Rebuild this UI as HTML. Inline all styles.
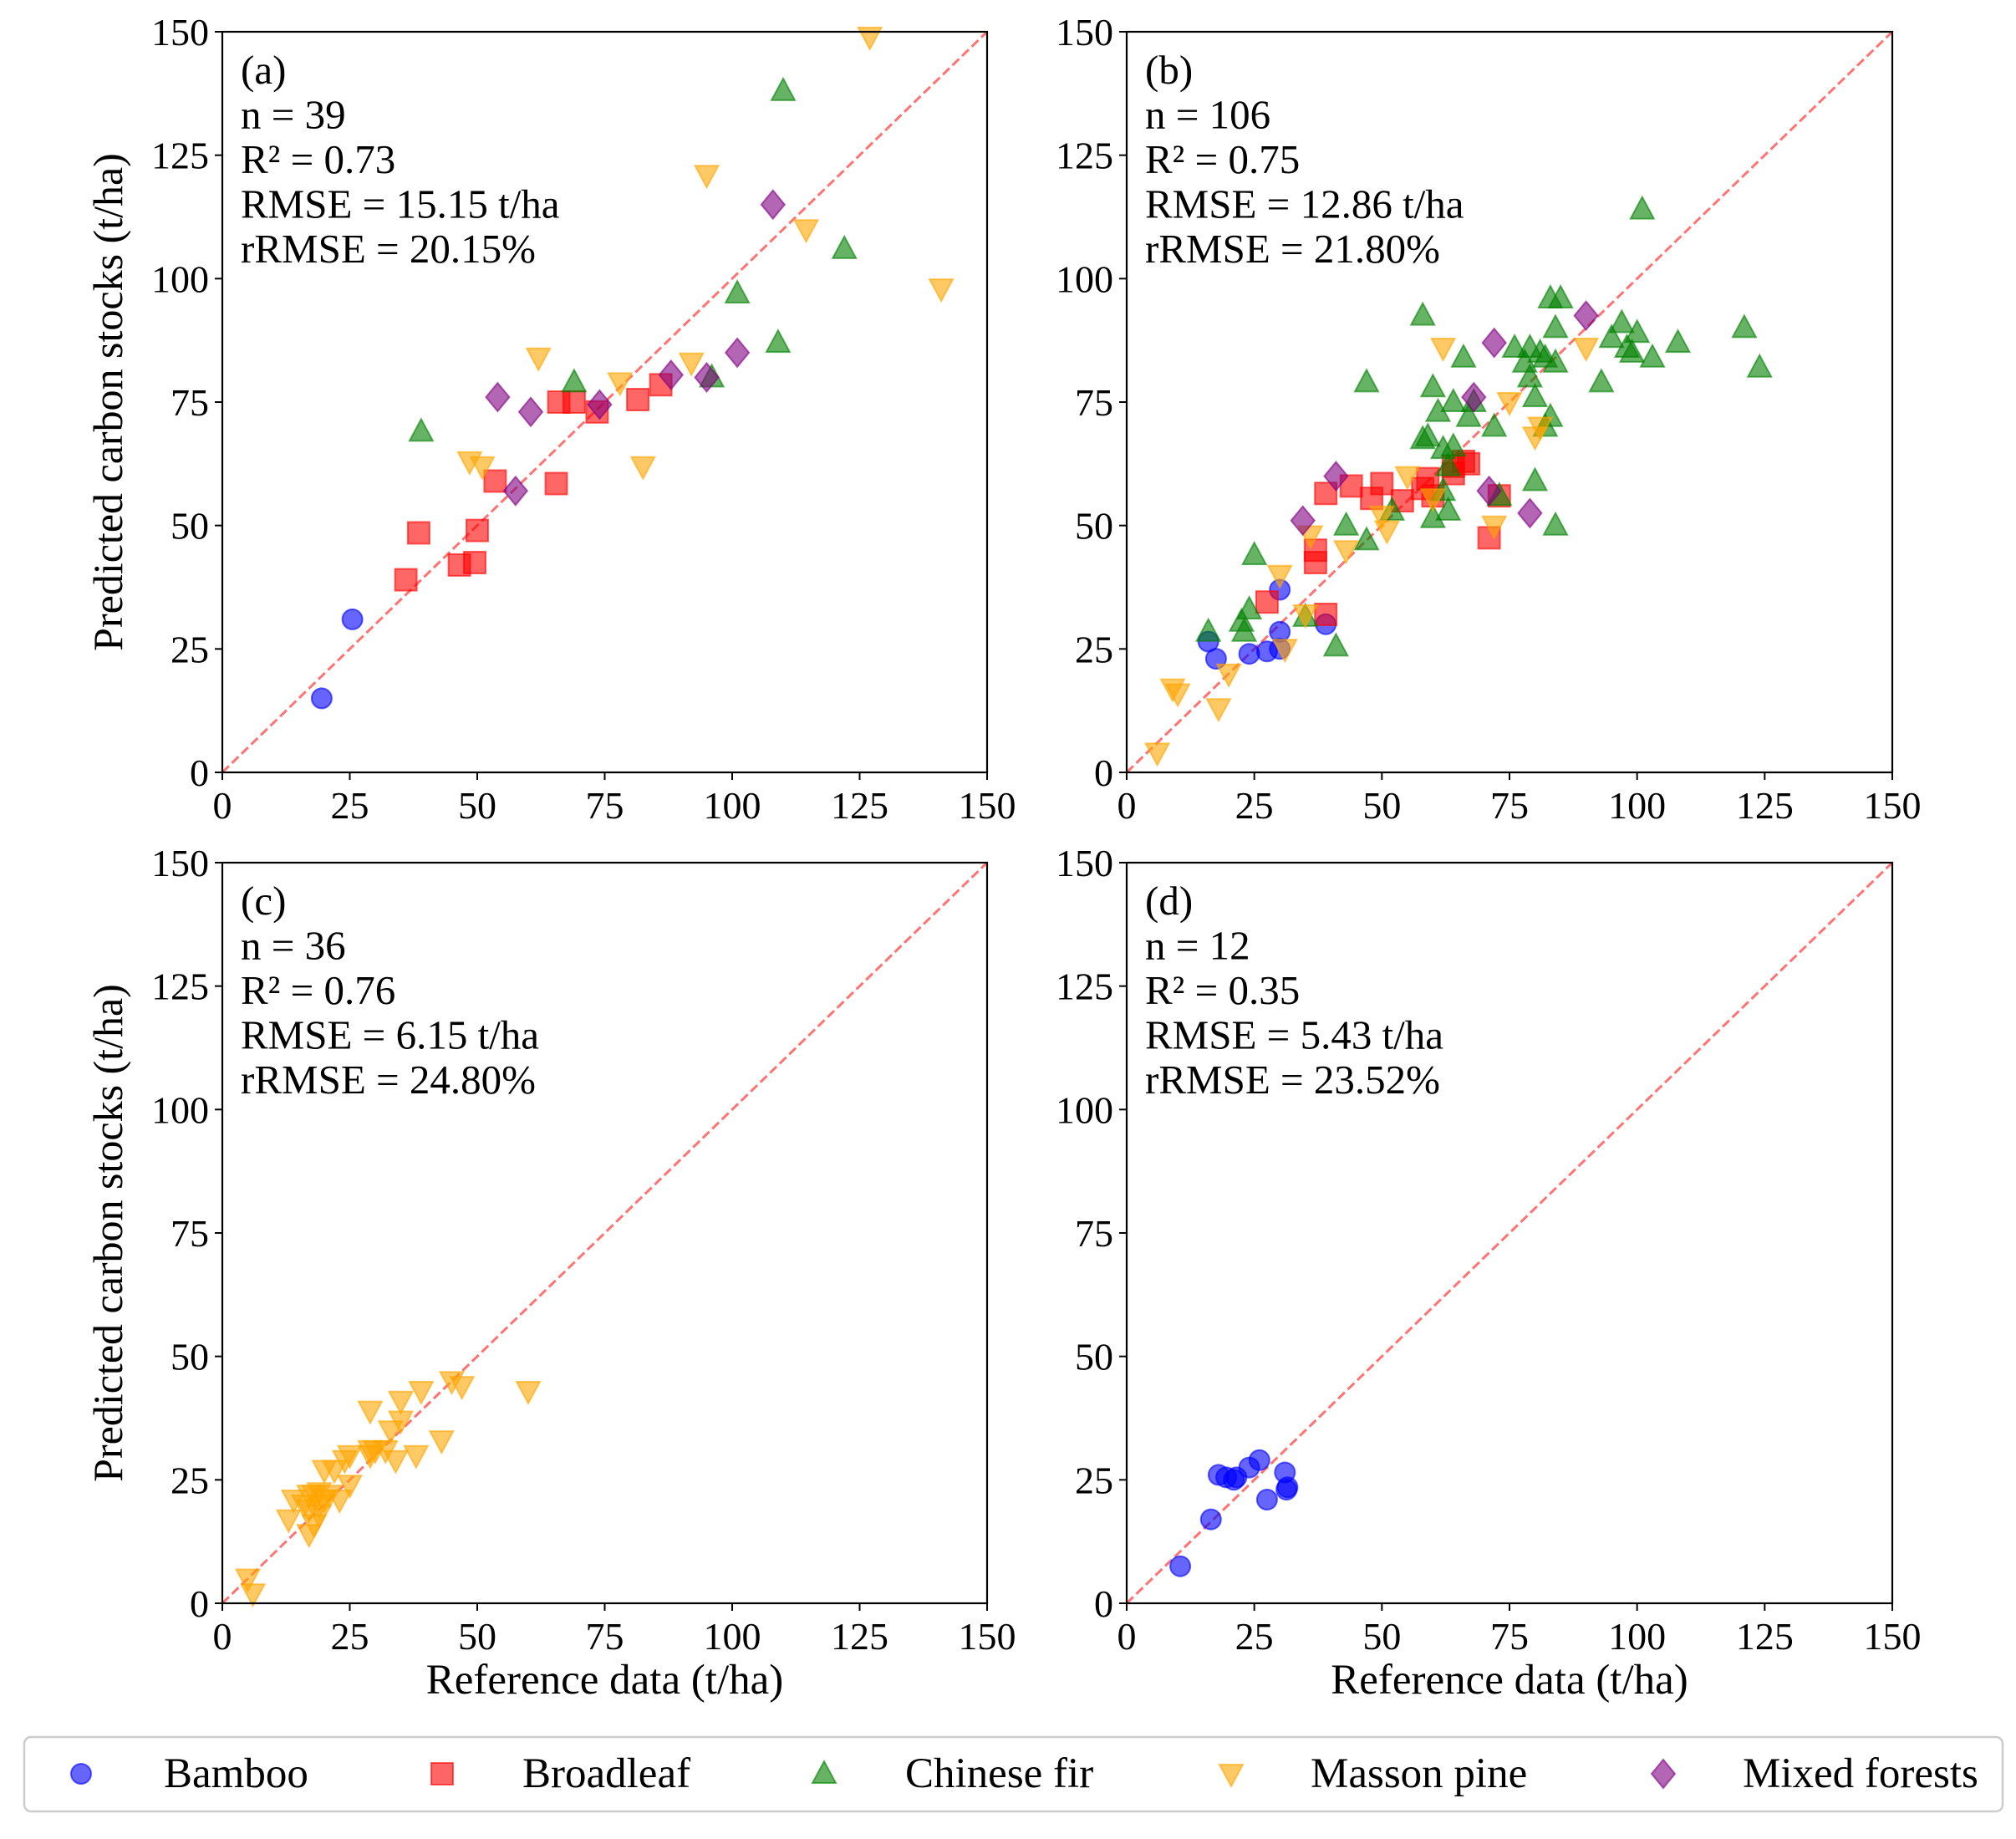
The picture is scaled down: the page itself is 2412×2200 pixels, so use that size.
<!DOCTYPE html>
<html><head><meta charset="utf-8"><style>
html,body{margin:0;padding:0;background:#fff;}
svg{display:block;font-family:"Liberation Serif",serif;}
</style></head><body>
<svg id="s" width="2412" height="2200" viewBox="0 0 2412 2200" xmlns="http://www.w3.org/2000/svg"></svg>
<script>
const S=document.getElementById('s');let h='';
const panels=[
 {x0:266,x1:1181,y0:38,y1:924,lab:'(a)',t:['n = 39','R² = 0.73','RMSE = 15.15 t/ha','rRMSE = 20.15%'],ylab:true,xlab:false,
  d:{b:[[19.5,15],[25.5,31]],
  r:[[36,39],[38.5,48.5],[46.5,42],[49.5,42.5],[50,49],[53.5,59],[65.5,58.5],[66,75],[69,75],[73.5,73],[81.5,75.5],[86,78.5]],
  g:[[39,69],[69,79],[96,80],[101,97],[109,87],[110,138],[122,106]],
  o:[[48.5,63],[51,62],[62,84],[78,79],[82.5,62],[92,83],[95,121],[114.5,110],[127,149],[141,98]],
  p:[[54,76],[60.5,73],[57.5,57],[74,74.5],[88,80.5],[95,80],[101,85],[108,115]]}},
 {x0:1348,x1:2264,y0:38,y1:924,lab:'(b)',t:['n = 106','R² = 0.75','RMSE = 12.86 t/ha','rRMSE = 21.80%'],ylab:false,xlab:false,
  d:{b:[[16,26.5],[17.5,23],[24,24],[27.5,24.5],[30,25],[30,28.5],[30,37],[39,30]],
  r:[[27.5,34.5],[37,45],[37,42.5],[39,32],[39,56.5],[44,58],[48,55.5],[50,58.5],[54,55],[58,57.5],[59,59.5],[60,56],[64,60.5],[64,62],[66,63],[67,62.5],[71,47.5],[73,56]],
  g:[[16,28.5],[22.5,30.5],[23,28.5],[24,33],[25,44],[35,31.5],[41,25.5],[43,50],[47,47],[47,79],[52,53],[58,92.5],[58,67.5],[59,68],[60,51.5],[60,78],[61,73],[62,57],[62,65.5],[63,53],[63,62],[64,66],[64,75],[66,84],[67,72],[68,75],[72,70],[73,56],[76,86],[78,83],[79,86],[79,80],[80,59],[80,76],[81,85],[82,84],[82,70],[83,96],[83,72],[84,90],[84,83],[84,50],[85,96],[93,79],[95,88],[97,91],[98,86],[99,85],[100,89],[101,114],[103,84],[108,87],[121,90],[124,82]],
  o:[[6,4],[9,17],[10,16],[18,13],[20,20],[30,40],[31,25],[35,32],[36,48],[43,45],[50,52],[51,49],[55,60],[60,55.5],[62,86],[72,50],[75,75],[80,68],[81,70],[90,86]],
  p:[[34.5,51],[41,60],[68,76],[71,57],[72,87],[79,52.5],[90,92.5]]}},
 {x0:266,x1:1181,y0:1032,y1:1918,lab:'(c)',t:['n = 36','R² = 0.76','RMSE = 6.15 t/ha','rRMSE = 24.80%'],ylab:true,xlab:true,
  d:{o:[[5,5],[6,2],[13,17],[14,21],[16,20],[17,14],[17,22],[18,16],[18,22],[19,22.5],[19,20],[20,27],[21,22],[22,27],[23,21],[24,29],[25,24],[25,30],[29,31],[29,39],[30,31],[32,31],[33,35],[34,29],[35,41],[38,30],[39,43],[43,33],[45,45],[47,44],[60,43],[20,21],[19,18],[35,37],[29,30],[17,19]]}},
 {x0:1348,x1:2264,y0:1032,y1:1918,lab:'(d)',t:['n = 12','R² = 0.35','RMSE = 5.43 t/ha','rRMSE = 23.52%'],ylab:false,xlab:true,
  d:{b:[[10.5,7.5],[16.5,17],[18,26],[19.5,25.5],[21.5,25.5],[24,27.5],[26,29],[27.5,21],[31,26.5],[31.5,23.5],[31.3,23],[21,25]]}}
];
const col={b:'#0000ff',r:'#ff0000',g:'#008000',o:'#ffa500',p:'#800080'};
function mk(k,x,y){x=+x;y=+y;const c=col[k];const st=`fill="${c}" fill-opacity="0.6" stroke="${c}" stroke-opacity="0.6" stroke-width="2"`;
 if(k=='b')return `<circle cx="${x}" cy="${y}" r="12" ${st}/>`;
 if(k=='r')return `<rect x="${x-13}" y="${y-13}" width="26" height="26" ${st}/>`;
 if(k=='g')return `<polygon points="${x},${y-15} ${x+14},${y+11} ${x-14},${y+11}" ${st}/>`;
 if(k=='o')return `<polygon points="${x},${y+15} ${x+14},${y-11} ${x-14},${y-11}" ${st}/>`;
 return `<polygon points="${x},${y-17} ${x+14},${y} ${x},${y+17} ${x-14},${y}" ${st}/>`;}
for(const P of panels){
 const X=v=>P.x0+(P.x1-P.x0)*v/150, Y=v=>P.y1-(P.y1-P.y0)*v/150;
 h+=`<line x1="${X(0)}" y1="${Y(0)}" x2="${X(150)}" y2="${Y(150)}" stroke="#ff0000" stroke-opacity="0.55" stroke-width="3" stroke-dasharray="11,5"/>`;
 for(const k of ['b','r','g','o','p'])if(P.d[k])for(const [a,b] of P.d[k])h+=mk(k,X(a).toFixed(1),Y(b).toFixed(1));
 h+=`<rect x="${P.x0}" y="${P.y0}" width="${P.x1-P.x0}" height="${P.y1-P.y0}" fill="none" stroke="#000" stroke-width="2.2"/>`;
 for(let v=0;v<=150;v+=25){
  h+=`<line x1="${X(v)}" y1="${P.y1}" x2="${X(v)}" y2="${P.y1+9}" stroke="#000" stroke-width="2"/>`;
  h+=`<text x="${X(v)}" y="${P.y1+55}" font-size="46" text-anchor="middle">${v}</text>`;
  h+=`<line x1="${P.x0-9}" y1="${Y(v)}" x2="${P.x0}" y2="${Y(v)}" stroke="#000" stroke-width="2"/>`;
  h+=`<text x="${P.x0-16}" y="${Y(v)+16}" font-size="46" text-anchor="end">${v}</text>`;}
 const lines=[P.lab,...P.t];
 lines.forEach((s,i)=>h+=`<text x="${P.x0+22}" y="${P.y0+62+i*53.5}" font-size="49">${s}</text>`);
 if(P.ylab)h+=`<text transform="translate(146,${(P.y0+P.y1)/2}) rotate(-90)" font-size="50" text-anchor="middle">Predicted carbon stocks (t/ha)</text>`;
 if(P.xlab)h+=`<text x="${(P.x0+P.x1)/2}" y="${P.y1+108}" font-size="51" text-anchor="middle">Reference data (t/ha)</text>`;
}
h+=`<rect x="29" y="2078" width="2367" height="89" rx="8" fill="#fff" stroke="#cccccc" stroke-width="2.5"/>`;
const L=[['b','Bamboo',97,196],['r','Broadleaf',529,625],['g','Chinese fir',986,1083],['o','Masson pine',1473,1568],['p','Mixed forests',1990,2085]];
for(const [k,n,mx,tx] of L){h+=mk(k,mx,2122);h+=`<text x="${tx}" y="2138" font-size="51">${n}</text>`;}
S.innerHTML=h;
</script>
</body></html>
